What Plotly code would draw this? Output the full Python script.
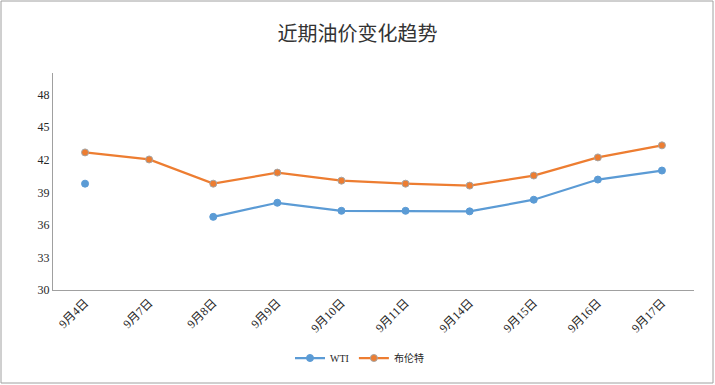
import plotly.graph_objects as go

dates = ["9月4日", "9月7日", "9月8日", "9月9日", "9月10日", "9月11日", "9月14日", "9月15日", "9月16日", "9月17日"]
wti = [39.80, None, 36.74, 38.04, 37.30, 37.30, 37.25, 38.32, 40.18, 41.01]
brent = [42.68, 42.03, 39.80, 40.82, 40.08, 39.80, 39.62, 40.55, 42.22, 43.33]
y_ticks = [30, 33, 36, 39, 42, 45, 48]

BLUE = "#5B9BD5"
ORANGE = "#ED7D31"
FONT = "Liberation Serif, Noto Sans CJK SC, serif"

fig = go.Figure()
fig.add_trace(go.Scatter(
    x=dates, y=wti, name="WTI", mode="lines+markers", connectgaps=False,
    line=dict(color=BLUE, width=2.25),
    marker=dict(color=BLUE, size=7, line=dict(color=BLUE, width=1)),
))
fig.add_trace(go.Scatter(
    x=dates, y=brent, name="布伦特", mode="lines+markers",
    line=dict(color=ORANGE, width=2.25),
    marker=dict(color=ORANGE, size=7, line=dict(color="#A5A5A5", width=1)),
))

W, H = 715, 385
L, R, T, B = 53, 21, 73, 95
pw, ph = W - L - R, H - T - B

fig.update_layout(
    width=W, height=H,
    margin=dict(l=L, r=R, t=T, b=B, autoexpand=False),
    paper_bgcolor="white", plot_bgcolor="white",
    title=dict(text="近期油价变化趋势", x=0.5, xanchor="center", y=1 - 34 / H, yanchor="middle",
               font=dict(family="Noto Sans CJK SC, sans-serif", size=20, color="#333333")),
    showlegend=True,
    legend=dict(orientation="h", x=0.5 - 14 / pw, xanchor="center", y=(T + ph - 358) / ph, yanchor="middle",
                font=dict(family=FONT, size=10, color="#262626"), itemwidth=30,
                bgcolor="rgba(0,0,0,0)"),
    xaxis=dict(type="category", showgrid=False, showline=True, linecolor="#A0A0A0", linewidth=1,
               ticks="", tickangle=-45, tickfont=dict(family=FONT, size=12, color="#262626"),
               range=[-0.5, len(dates) - 0.5], automargin=False),
    yaxis=dict(range=[30, 50], tickvals=y_ticks, showgrid=False, showline=True, linecolor="#A0A0A0",
               linewidth=1, ticks="", zeroline=False, automargin=False,
               tickfont=dict(family=FONT, size=12, color="#262626")),
    shapes=[dict(type="rect", xref="paper", yref="paper",
                 x0=(1 - L) / pw, x1=(W - 2 - L) / pw,
                 y0=(T + ph - (H - 2)) / ph, y1=(T + ph - 1) / ph,
                 line=dict(color="#A0A0A0", width=1), fillcolor="rgba(0,0,0,0)", layer="below")],
)

fig.write_html("out.html", config={"displayModeBar": False},
               post_script="document.body.style.margin='0';document.body.style.overflow='hidden';")
